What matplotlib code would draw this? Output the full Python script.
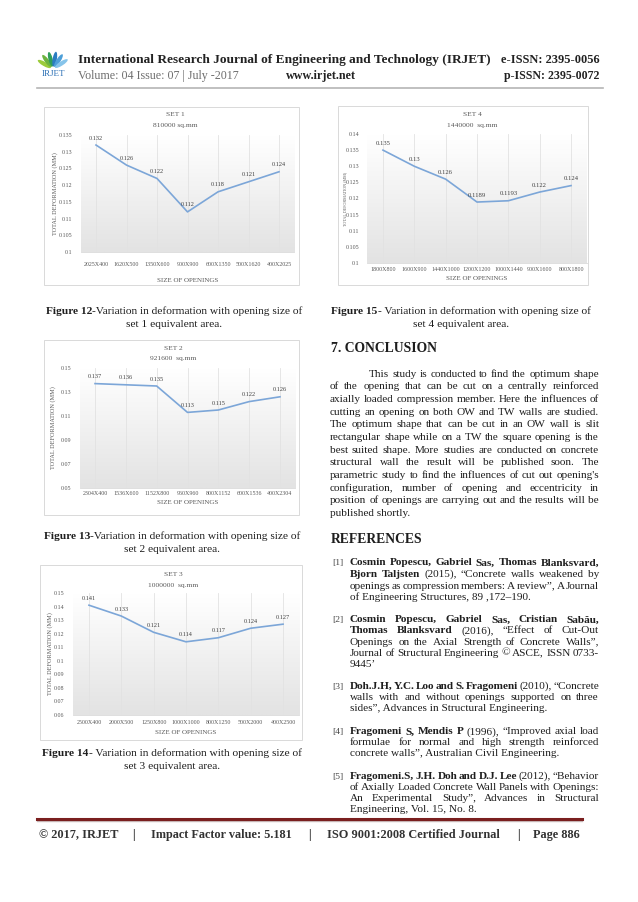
import numpy as np
import matplotlib
matplotlib.use('Agg')
import matplotlib.pyplot as plt
from matplotlib.patches import Ellipse, Rectangle
from matplotlib.colors import LinearSegmentedColormap

W, H = 638, 902
SERIF = ['Liberation Serif', 'DejaVu Serif']
plt.rcParams['font.family'] = SERIF

# chart data: opening size vs total deformation (mm)
set1_sizes = ['2025X400', '1620X500', '1350X600', '900X900', '600X1350', '500X1620', '400X2025']
set1_def = [0.132, 0.126, 0.122, 0.112, 0.118, 0.121, 0.124]
set2_sizes = ['2304X400', '1536X600', '1152X800', '960X960', '800X1152', '600X1536', '400X2304']
set2_def = [0.137, 0.136, 0.135, 0.113, 0.115, 0.122, 0.126]
set3_sizes = ['2500X400', '2000X500', '1250X800', '1000X1000', '800X1250', '500X2000', '400X2500']
set3_def = [0.141, 0.133, 0.121, 0.114, 0.117, 0.124, 0.127]
set4_sizes = ['1800X800', '1600X900', '1440X1000', '1200X1200', '1000X1440', '900X1600', '800X1800']
set4_def = [0.135, 0.13, 0.126, 0.1189, 0.1193, 0.122, 0.124]

TXT = '#595959'
INK = '#1e1e1e'
LINE = '#7ca6d8'
BG = LinearSegmentedColormap.from_list('bg', ['#e3e3e3', '#ffffff'])

fig = plt.figure(figsize=(W / 100, H / 100), dpi=100)
renderer = fig.canvas.get_renderer()


def fy(y):
    return 1 - y / H


def ext(s, size, bold):
    t = fig.text(0, 0, s, fontsize=size, fontweight='bold' if bold else 'normal')
    w = t.get_window_extent(renderer).width
    t.remove()
    return w


def adv(s, size, bold):
    # advance width, not ink width
    return ext('|' + s + '|', size, bold) - ext('||', size, bold)


def words_of(parts):
    words = []
    glue = False
    for s, b in parts:
        for i, p in enumerate(s.split(' ')):
            if not p:
                continue
            if i == 0 and glue and words:
                words[-1].append((p, b))
            else:
                words.append([(p, b)])
        glue = not s.endswith(' ')
    return words


def put(x, base, s, size, b, color):
    fig.text(x / W, base, s, fontsize=size, fontweight='bold' if b else 'normal',
             color=color, va='baseline', ha='left')


def run_width(parts, size):
    space = adv(' ', size, False)
    return sum((len(s) - len(s.lstrip(' '))) * space + adv(s.strip(' '), size, b) for s, b in parts)


def text_line(parts, yc, size, x0=0, x1=0, mode='left', color=INK):
    base = fy(yc + 0.3 * size * 100 / 72)
    if mode == 'justify':
        words = words_of(parts)
        widths = [[adv(s, size, b) for s, b in w] for w in words]
        gap = (x1 - x0 - sum(map(sum, widths))) / max(len(words) - 1, 1)
        x = x0
        for w, ws in zip(words, widths):
            for (s, b), wd in zip(w, ws):
                put(x, base, s, size, b, color)
                x += wd
            x += gap
        return
    space = adv(' ', size, False)
    x = x0 - run_width(parts, size) / 2 if mode == 'center' else x0
    for s, b in parts:
        x += (len(s) - len(s.lstrip(' '))) * space
        put(x, base, s.strip(' '), size, b, color)
        x += adv(s.strip(' '), size, b)


def fit_size(parts, target, base=10):
    return base * target / run_width(parts, base)


def chart(box, plot, sizes, vals, ymin, ymax, step, title, area, title_x, title_y,
          xtick_y, xlab_y, ylab_x, ylab_fs=4.5, lab_fs=4.5):
    x0, y0, x1, y1 = box
    fig.add_artist(Rectangle((x0 / W, 1 - y1 / H), (x1 - x0) / W, (y1 - y0) / H,
                             transform=fig.transFigure, fill=False, ec='#d9d9d9', lw=0.7))
    px0, py0, px1, py1 = plot
    ax = fig.add_axes([px0 / W, 1 - py1 / H, (px1 - px0) / W, (py1 - py0) / H])
    ax.imshow(np.linspace(0, 1, 64).reshape(-1, 1), cmap=BG, extent=(0, 1, 0, 1),
              transform=ax.transAxes, aspect='auto', origin='lower', zorder=0)
    pos = np.arange(len(vals))
    ax.plot(pos, vals, color=LINE, lw=1.2, zorder=3)
    for p, v in zip(pos, vals):
        ax.annotate(f'{v:g}', (p, v), xytext=(0, 3.2), textcoords='offset points',
                    ha='center', va='bottom', fontsize=lab_fs, color='#404040', zorder=4)
    ax.set_xlim(-0.5, len(vals) - 0.5)
    ax.set_ylim(ymin, ymax)
    ax.set_xticks(pos, sizes)
    ticks = np.arange(ymin, ymax + step / 2, step)
    ax.set_yticks(ticks, [f'{round(t, 4):g}' for t in ticks])
    ax.tick_params(axis='x', length=0, labelsize=4.3, labelcolor=TXT,
                   pad=(xtick_y - py1 - 3) * 0.72)
    ax.tick_params(axis='y', length=0, labelsize=4.3, labelcolor=TXT, pad=6)
    ax.grid(axis='x', color='#e2e2e2', lw=0.6, zorder=1)
    ax.set_axisbelow(True)
    for s in ['top', 'right', 'left']:
        ax.spines[s].set_visible(False)
    ax.spines['bottom'].set_color('#d9d9d9')
    ax.spines['bottom'].set_linewidth(0.6)
    fig.text(title_x / W, fy(title_y[0]), title, ha='center', va='center', fontsize=5.4, color=TXT)
    fig.text(title_x / W, fy(title_y[1]), area, ha='center', va='center', fontsize=5.4, color=TXT)
    fig.text((px0 + px1) / 2 / W, fy(xlab_y), 'SIZE OF OPENINGS', ha='center', va='center',
             fontsize=5.0, color=TXT)
    fig.text(ylab_x / W, fy((py0 + py1) / 2), 'TOTAL DEFORMATION (MM)', rotation=90,
             ha='center', va='center', fontsize=ylab_fs, color=TXT)


chart((44, 107, 299, 285), (80.75, 135, 294.25, 252), set1_sizes, set1_def, 0.1, 0.135, 0.005,
      'SET 1', '810000 sq.mm', 175, (115, 125), 265, 280, 55)
chart((44, 340, 299, 515), (79.6, 368, 295.4, 488), set2_sizes, set2_def, 0.05, 0.15, 0.02,
      'SET 2', '921600  sq.mm', 173, (349, 358), 494, 503, 53)
chart((40, 565, 302, 740), (72.8, 593, 299.2, 715), set3_sizes, set3_def, 0.06, 0.15, 0.01,
      'SET 3', '1000000  sq.mm', 173, (575, 585), 723, 733, 50)
chart((338, 106, 588, 285), (367.3, 134, 586.7, 263), set4_sizes, set4_def, 0.1, 0.14, 0.005,
      'SET 4', '1440000  sq.mm', 472, (115, 125), 270, 278, 345, ylab_fs=3.0, lab_fs=4.8)

# page header
logo = fig.add_axes([36 / W, 1 - 82 / H, 34 / W, 40 / H])
logo.set_xlim(36, 70)
logo.set_ylim(-82, -42)
logo.axis('off')
leaf_cols = ['#9ccb3b', '#6db33f', '#2f9e5a', '#2b7cc0', '#4d9fd8', '#86c4ea']
for ang, c in zip([150, 127, 104, 80, 57, 33], leaf_cols):
    r = np.radians(ang)
    logo.add_patch(Ellipse((53 + 10 * np.cos(r), -69 + 10 * np.sin(r)), 15, 4.2,
                           angle=ang, color=c, lw=0))
fig.text(53 / W, fy(74.5), 'IRJET', ha='center', va='center', fontsize=6.5,
         color='#2a6fb5')

title_parts = [('International Research Journal of Engineering and Technology (IRJET)', True)]
text_line(title_parts, 59, fit_size(title_parts, 414), x0=78, color='#222222')
issn = [('e-ISSN: 2395-0056', True)]
text_line(issn, 59, fit_size(issn, 98), x0=501, color='#222222')
vol = [('Volume: 04 Issue: 07 | July -2017', False)]
text_line(vol, 75, fit_size(vol, 160), x0=78, color='#6e6e6e')
web = [('www.irjet.net', True)]
text_line(web, 75, fit_size(web, 70), x0=286, color='#222222')
pissn = [('p-ISSN: 2395-0072', True)]
text_line(pissn, 75, fit_size(pissn, 95), x0=504, color='#222222')
fig.add_artist(plt.Line2D([37 / W, 603 / W], [fy(88), fy(88)], color='#b5b5b5', lw=1.2))

# figure captions
cap = [('Figure 12', True), ('-Variation in deformation with opening size of', False)]
cap_fs = fit_size(cap, 258)
captions = [
    (174, 311, '12', '-Variation', '1'),
    (461, 311, '15', '- Variation', '4'),
    (172, 536, '13', '-Variation', '2'),
    (172, 753, '14', '- Variation', '3'),
]
for cx, cy, num, lead, s in captions:
    text_line([('Figure ' + num, True), (lead + ' in deformation with opening size of', False)],
              cy, cap_fs, x0=cx, mode='center')
    text_line([('set ' + s + ' equivalent area.', False)], cy + 12.5, cap_fs, x0=cx, mode='center')

# conclusion
conclusion = [
    'This study is conducted to find the optimum shape',
    'of the opening that can be cut on a centrally reinforced',
    'axially loaded compression member. Here the influences of',
    'cutting an opening on both OW and TW walls are studied.',
    'The optimum shape that can be cut in an OW wall is slit',
    'rectangular shape while on a TW the square opening is the',
    'best suited shape. More studies are conducted on concrete',
    'structural wall the result will be published soon. The',
    "parametric study to find the influences of cut out opening's",
    'configuration, number of opening and eccentricity in',
    'position of openings are carrying out and the results will be',
    'published shortly.',
]
BODY = fit_size([(conclusion[8], False)], 266)
text_line([('7. CONCLUSION', True)], 348, 9.8, x0=331)
for i, ln in enumerate(conclusion):
    last = i == len(conclusion) - 1
    text_line([(ln, False)], 373.3 + 12.67 * i, BODY, x0=369 if i == 0 else 330, x1=599,
              mode='left' if last else 'justify')

# references
text_line([('REFERENCES', True)], 539, 9.8, x0=331)
refs = [
    ('[1]', [562, 573.7, 585.3, 597], [
        [('Cosmin Popescu, Gabriel Sas, Thomas Blanksvard,', True)],
        [('Bjorn Taljsten', True), (' (2015), \u201cConcrete walls weakened by', False)],
        [('openings as compression members: A review\u201d, A Journal', False)],
        [('of Engineering Structures, 89 ,172\u2013190.', False)],
    ]),
    ('[2]', [619, 630, 641.3, 652.3, 663.3], [
        [('Cosmin Popescu, Gabriel Sas, Cristian Sab\u0103u,', True)],
        [('Thomas Blanksvard', True), (' (2016), \u201cEffect of Cut-Out', False)],
        [('Openings on the Axial Strength of Concrete Walls\u201d,', False)],
        [('Journal of Structural Engineering \u00a9 ASCE, ISSN 0733-', False)],
        [('9445\u2019', False)],
    ]),
    ('[3]', [685.7, 697, 707.7], [
        [('Doh.J.H, Y.C. Loo and S. Fragomeni', True), (' (2010), \u201cConcrete', False)],
        [('walls with and without openings supported on three', False)],
        [('sides\u201d, Advances in Structural Engineering.', False)],
    ]),
    ('[4]', [731, 741.7, 752.3], [
        [('Fragomeni S, Mendis P', True), (' (1996), \u201cImproved axial load', False)],
        [('formulae for normal and high strength reinforced', False)],
        [('concrete walls\u201d, Australian Civil Engineering.', False)],
    ]),
    ('[5]', [775.7, 786.7, 797.7, 808.3], [
        [('Fragomeni.S, J.H. Doh and D.J. Lee', True), (' (2012), \u201cBehavior', False)],
        [('of Axially Loaded Concrete Wall Panels with Openings:', False)],
        [('An Experimental Study\u201d, Advances in Structural', False)],
        [('Engineering, Vol. 15, No. 8.', False)],
    ]),
]
for tag, ys, lines in refs:
    text_line([(tag, False)], ys[0], 6.8, x0=332, color='#444444')
    for j, (yy, parts) in enumerate(zip(ys, lines)):
        last = j == len(lines) - 1
        text_line(parts, yy, BODY, x0=350, x1=599, mode='left' if last else 'justify')

# footer
fig.add_artist(plt.Line2D([37 / W, 582 / W], [fy(820.5), fy(820.5)], color='#c9b9b9', lw=1.0))
fig.add_artist(plt.Line2D([37 / W, 582 / W], [fy(818.5), fy(818.5)], color='#7a1f1f', lw=2.2))
foot_fs = fit_size([('ISO 9001:2008 Certified Journal', True)], 171)
for fx0, s in [(39, '\u00a9 2017, IRJET'), (132, '|'), (151, 'Impact Factor value: 5.181'),
               (308, '|'), (327, 'ISO 9001:2008 Certified Journal'), (517, '|'), (533, 'Page 886')]:
    text_line([(s, True)], 834, foot_fs, x0=fx0, color='#333333')

fig.savefig('out.png', dpi=100, facecolor='white')
